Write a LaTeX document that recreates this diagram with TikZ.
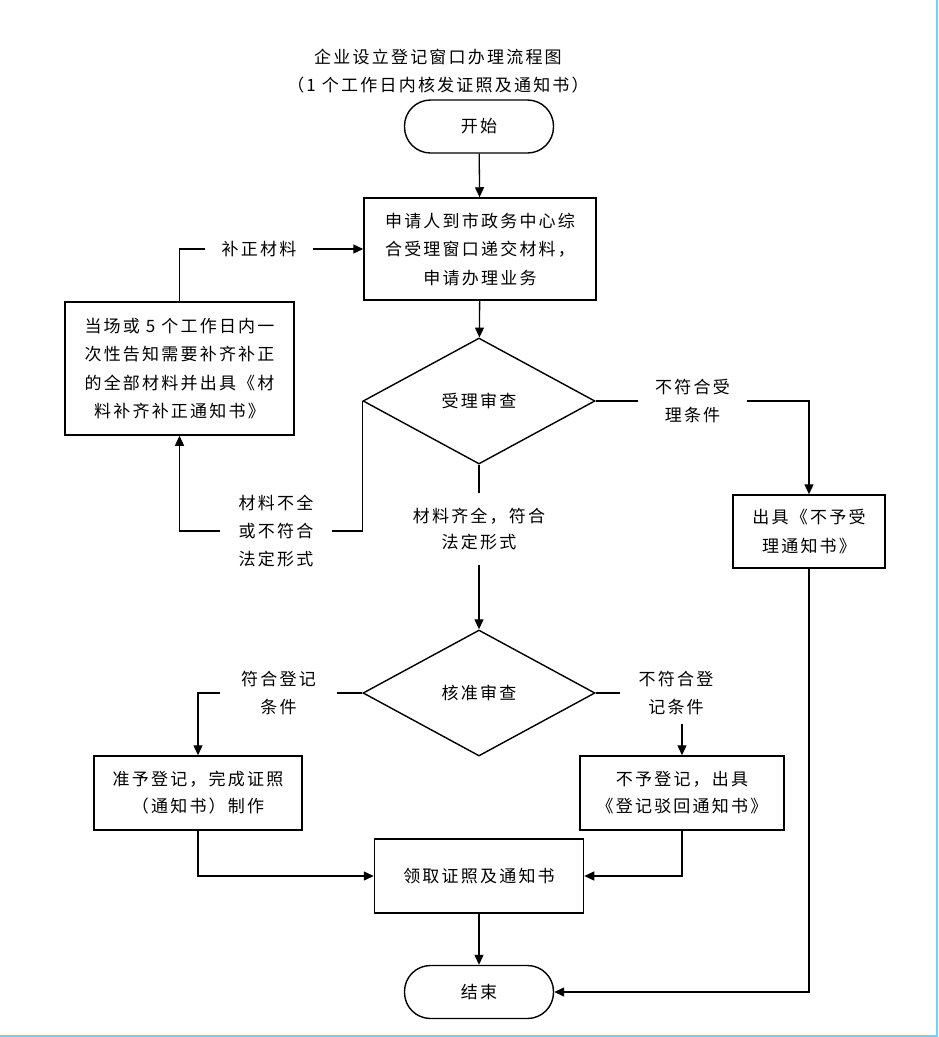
\documentclass[tikz,border=0pt]{standalone}
\usepackage{fontspec}
\usetikzlibrary{shapes.geometric,arrows.meta}
\newfontfamily\cjk[LetterSpace=13]{Noto Sans CJK SC}
\definecolor{edgeblue}{RGB}{125,205,240}
\begin{document}
\begin{tikzpicture}[x=1pt,y=-1pt,
  every node/.style={font=\cjk\fontsize{17}{28.5}\selectfont, align=center, inner sep=0pt, text=black},
  term/.style={draw, line width=1.4pt, rounded corners=26pt, minimum width=149pt, minimum height=53pt},
  proc/.style={draw, line width=1.5pt},
  dec/.style={draw, line width=1.4pt, diamond, aspect=1.84, minimum width=232pt, minimum height=126pt},
  lbl/.style={},
  ln/.style={draw, line width=1.3pt},
  arr/.style={ln, -{Triangle[width=9pt,length=10pt]}}]
\useasboundingbox (0,0) rectangle (938,1037);
\draw[edgeblue, line width=2pt] (937,0) -- (937,1036) -- (0,1036);

% title
\node (title) at (438,71) {企业设立登记窗口办理流程图\\（1 个工作日内核发证照及通知书）};

% main column
\node[term] (start) at (479,126.5) {开始};
\node[proc, minimum width=232pt, minimum height=102pt] (apply) at (480,249)
  {申请人到市政务中心综\\合受理窗口递交材料，\\申请办理业务};
\node[dec] (d1) at (479,401) {受理审查};
\node[lbl, minimum height=72pt, font=\cjk\fontsize{17}{26}\selectfont] (lblok) at (479,529) {材料齐全，符合\\法定形式};
\node[dec] (d2) at (479,693) {核准审查};
\node[proc, minimum width=209pt, minimum height=74pt] (collect) at (479,876) {领取证照及通知书};
\node[term] (end) at (479,992) {结束};

% left loop
\node[proc, minimum width=229pt, minimum height=133pt] (notify) at (179.5,368.5)
  {当场或 5 个工作日内一\\次性告知需要补齐补正\\的全部材料并出具《材\\料补齐补正通知书》};
\node[lbl, minimum width=108pt] (lblfix) at (259,249) {补正材料};
\node[lbl, minimum width=112pt, font=\cjk\fontsize{17}{28}\selectfont] (lblinc) at (276,531) {材料不全\\或不符合\\法定形式};

% right branch
\node[lbl, minimum width=109pt, font=\cjk\fontsize{17}{28}\selectfont] (lblrej) at (692.5,401) {不符合受\\理条件};
\node[proc, minimum width=152pt, minimum height=73pt] (reject) at (809,531.5) {出具《不予受\\理通知书》};

% second decision branches
\node[lbl, minimum width=117pt, font=\cjk\fontsize{17}{28}\selectfont] (lblreg) at (278.5,693) {符合登记\\条件};
\node[lbl, minimum width=112pt, minimum height=62pt, font=\cjk\fontsize{17}{28}\selectfont] (lblnoreg) at (676,693) {不符合登\\记条件};
\node[proc, minimum width=208pt, minimum height=74pt, font=\cjk\fontsize{17}{27}\selectfont] (grant) at (198,793) {准予登记，完成证照\\（通知书）制作};
\node[proc, minimum width=204pt, minimum height=74pt, font=\cjk\fontsize{17}{27}\selectfont] (deny) at (682,793) {不予登记，出具\\《登记驳回通知书》};

% connectors
\draw[arr] (start) -- (apply);
\draw[arr] (apply) -- (d1);
\draw[ln] (notify.north) |- (lblfix.west);
\draw[arr] (lblfix.east) -- (apply.west);
\draw[ln] (d1.west) |- (lblinc.east);
\draw[arr] (lblinc.west) -| (notify.south);
\draw[ln] (d1.south) -- (lblok.north);
\draw[arr] (lblok.south) -- (d2.north);
\draw[ln] (d1.east) -- (lblrej.west);
\draw[arr] (lblrej.east) -| (reject.north);
\draw[arr] (reject.south) |- (end.east);
\draw[ln] (d2.west) -- (lblreg.east);
\draw[arr] (lblreg.west) -| (grant.north);
\draw[ln] (d2.east) -- (lblnoreg.west);
\draw[arr] (lblnoreg.south -| deny.north) -- (deny.north);
\draw[arr] (grant.south) |- (collect.west);
\draw[arr] (deny.south) |- (collect.east);
\draw[arr] (collect) -- (end);
\end{tikzpicture}
\end{document}
